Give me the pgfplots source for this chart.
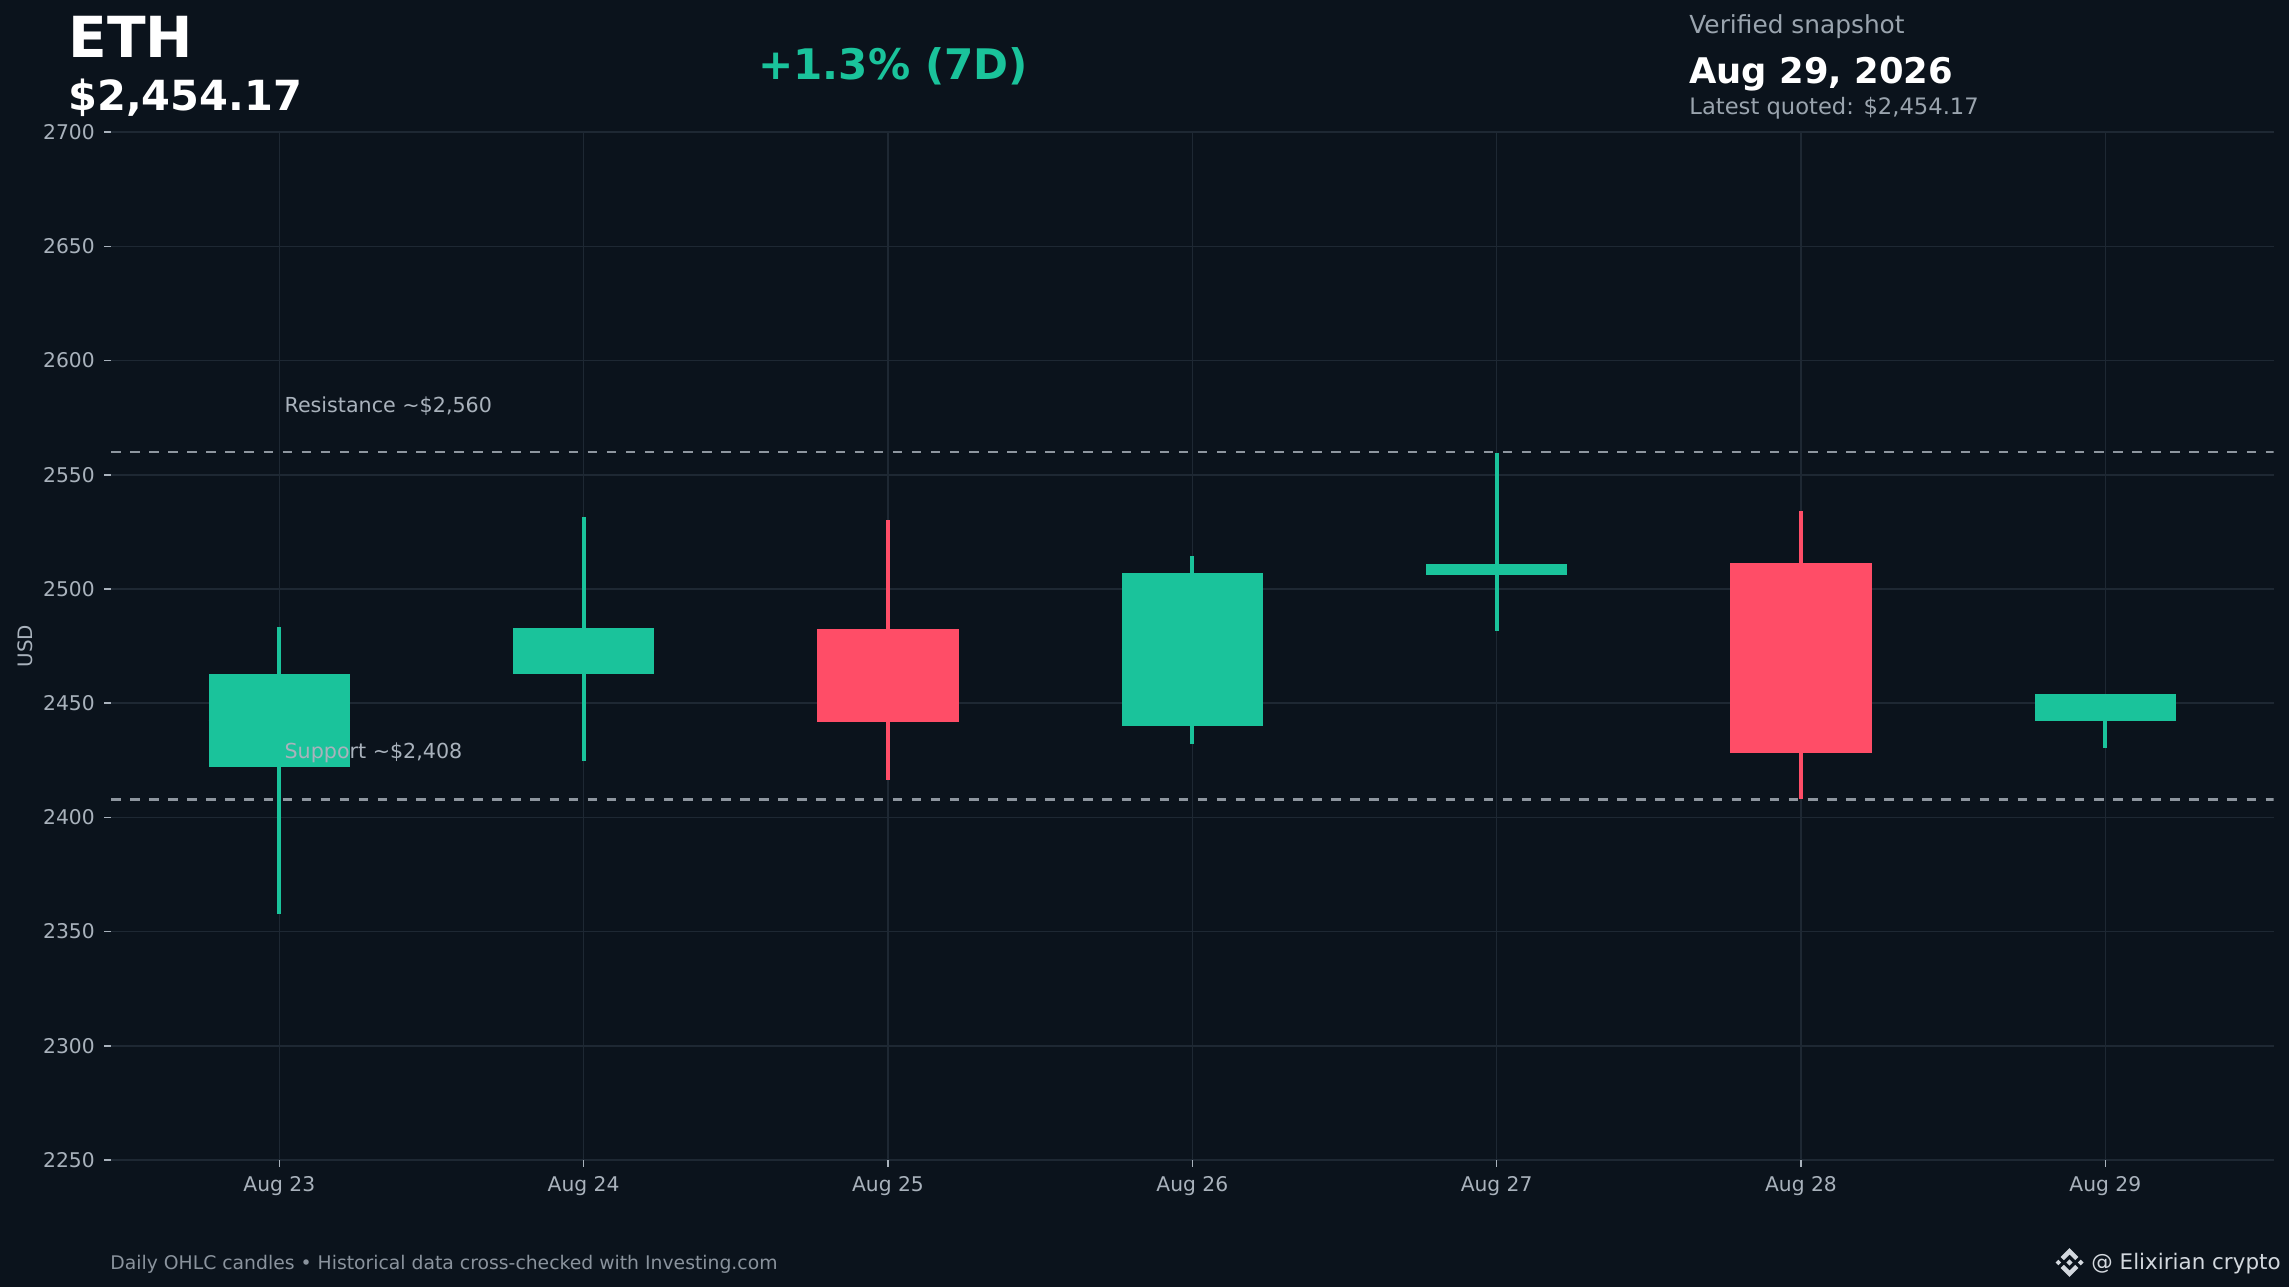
\documentclass[border=0pt]{standalone}
\usepackage{fontspec}
\setmainfont{DejaVu Sans}
\usepackage{pgfplots}
\pgfplotsset{compat=1.18}
\usepgfplotslibrary{statistics}
\definecolor{bg}{HTML}{0B131C}
\definecolor{up}{HTML}{1AC39B}
\definecolor{down}{HTML}{FF4D67}
\definecolor{gridc}{HTML}{1E2833}
\definecolor{tickc}{HTML}{A9B2BC}
\definecolor{subc}{HTML}{9AA4AE}
\definecolor{footc}{HTML}{8A939D}
\definecolor{handc}{HTML}{D3D8DE}
\definecolor{dashc}{HTML}{8E969F}
\pgfplotsset{
  candle/.style={boxplot/draw direction=y,
    boxplot/every whisker/.style={line width=2pt},
    boxplot/every box/.style={draw=none},
    boxplot/every median/.style={draw=none}},
}
% date, open, high, low, close
% Aug 23: 2422.2 2483.3 2357.8 2462.7
% Aug 24: 2462.9 2531.5 2424.8 2482.9
% Aug 25: 2482.4 2530.2 2416.5 2441.9
% Aug 26: 2440.1 2514.4 2432.2 2507.0
% Aug 27: 2506.1 2559.4 2481.7 2510.9
% Aug 28: 2511.3 2534.1 2408.1 2428.3
% Aug 29: 2442.3 2454.17 2430.5 2454.17
\begin{document}
\begin{tikzpicture}
\begin{scope}[shift={(0pt,648pt)},x=0.5035pt,y=-0.5035pt]
\fill[bg] (0,0) rectangle (2289,1287);
\end{scope}
\begin{axis}[
  at={(55.89pt,63.94pt)}, anchor=south west,
  width=1088.8pt, height=517.5pt, scale only axis,
  xmin=-0.553, xmax=6.553, ymin=2250, ymax=2700,
  xtick={0,1,2,3,4,5,6},
  xticklabels={Aug 23,Aug 24,Aug 25,Aug 26,Aug 27,Aug 28,Aug 29},
  ytick={2250,2300,2350,2400,2450,2500,2550,2600,2650,2700},
  xtick pos=lower, ytick pos=left,
  grid=major, major grid style={draw=gridc, line width=0.8pt},
  axis line style={draw=none},
  tick align=outside, major tick length=3.5pt,
  tick style={draw=tickc, line width=0.8pt},
  ticklabel style={font=\fontsize{10.2}{12}\selectfont, text=tickc, inner sep=0pt},
  yticklabel style={anchor=east, xshift=-4.5pt},
  xticklabel style={anchor=north, yshift=-4.5pt},
  /pgf/number format/assume math mode=true,
  /pgf/number format/1000 sep={},
]
\addplot[up, fill=up, candle, boxplot prepared={draw position=0, lower whisker=2357.8, lower quartile=2422.2, median=2442.4, upper quartile=2462.7, upper whisker=2483.3, box extend=0.465, whisker extend=0}] coordinates {};
\addplot[up, fill=up, candle, boxplot prepared={draw position=1, lower whisker=2424.8, lower quartile=2462.9, median=2472.9, upper quartile=2482.9, upper whisker=2531.5, box extend=0.465, whisker extend=0}] coordinates {};
\addplot[down, fill=down, candle, boxplot prepared={draw position=2, lower whisker=2416.5, lower quartile=2441.9, median=2462.1, upper quartile=2482.4, upper whisker=2530.2, box extend=0.465, whisker extend=0}] coordinates {};
\addplot[up, fill=up, candle, boxplot prepared={draw position=3, lower whisker=2432.2, lower quartile=2440.1, median=2473.5, upper quartile=2507.0, upper whisker=2514.4, box extend=0.465, whisker extend=0}] coordinates {};
\addplot[up, fill=up, candle, boxplot prepared={draw position=4, lower whisker=2481.7, lower quartile=2506.1, median=2508.5, upper quartile=2510.9, upper whisker=2559.4, box extend=0.465, whisker extend=0}] coordinates {};
\addplot[down, fill=down, candle, boxplot prepared={draw position=5, lower whisker=2408.1, lower quartile=2428.3, median=2469.8, upper quartile=2511.3, upper whisker=2534.1, box extend=0.465, whisker extend=0}] coordinates {};
\addplot[up, fill=up, candle, boxplot prepared={draw position=6, lower whisker=2430.5, lower quartile=2442.3, median=2448.2, upper quartile=2454.17, upper whisker=2454.17, box extend=0.465, whisker extend=0}] coordinates {};
\addplot[dashc, line width=1.4pt, dash pattern=on 4.8pt off 4.8pt] coordinates {(-0.553,2560) (6.553,2560)};
\addplot[dashc, line width=1.4pt, dash pattern=on 4.8pt off 4.8pt] coordinates {(-0.553,2408) (6.553,2408)};
\node[anchor=base west, inner sep=0pt, font=\fontsize{10.4}{12}\selectfont, text=tickc] at (axis cs:0.016,2577.1) {Resistance \textasciitilde\$2,560};
\node[anchor=base west, inner sep=0pt, font=\fontsize{10.4}{12}\selectfont, text=tickc] at (axis cs:0.016,2425.8) {Support \textasciitilde\$2,408};
\end{axis}
\begin{scope}[shift={(0pt,648pt)},x=0.5035pt,y=-0.5035pt]
\node[anchor=base west, inner sep=0pt, font=\bfseries\fontsize{28.5}{32}\selectfont, text=white] at (68,58) {ETH};
\node[anchor=base west, inner sep=0pt, font=\bfseries\fontsize{20.9}{25}\selectfont, text=white] at (68,111) {\$2,454.17};
\node[anchor=base, inner sep=0pt, font=\bfseries\fontsize{21.2}{25}\selectfont, text=up] at (893,80) {+1.3\% (7D)};
\node[anchor=base west, inner sep=0pt, font=\fontsize{12.5}{14}\selectfont, text=subc] at (1689,34) {Verified snapshot};
\node[anchor=base west, inner sep=0pt, font=\bfseries\fontsize{17.8}{22}\selectfont, text=white] at (1689,83.3) {Aug 29, 2026};
\node[anchor=base west, inner sep=0pt, font=\fontsize{11.4}{14}\selectfont, text=subc] at (1689,115) {Latest quoted: \$2,454.17};
\node[rotate=90, inner sep=0pt, font=\fontsize{10}{12}\selectfont, text=tickc] at (25.5,646) {USD};
\node[anchor=base west, inner sep=0pt, font=\fontsize{9.46}{12}\selectfont, text=footc] at (110,1269.5) {Daily OHLC candles \textbullet{} Historical data cross-checked with Investing.com};
\node[anchor=base east, inner sep=0pt, font=\fontsize{10.8}{13}\selectfont, text=handc] at (2281,1269.5) {@ Elixirian crypto};
\begin{scope}[shift={(2069.5,1262.5)},x=7.2pt,y=7.2pt]
\fill[handc] (0,0.22) -- (0.22,0) -- (0,-0.22) -- (-0.22,0) -- cycle;
\fill[handc] (0.78,0.2) -- (0.98,0) -- (0.78,-0.2) -- (0.58,0) -- cycle;
\fill[handc] (-0.78,0.2) -- (-0.98,0) -- (-0.78,-0.2) -- (-0.58,0) -- cycle;
\fill[handc] (-0.62,0.38) -- (0,1) -- (0.62,0.38) -- (0.4,0.16) -- (0,0.56) -- (-0.4,0.16) -- cycle;
\fill[handc] (-0.62,-0.38) -- (0,-1) -- (0.62,-0.38) -- (0.4,-0.16) -- (0,-0.56) -- (-0.4,-0.16) -- cycle;
\end{scope}
\pgfresetboundingbox
\path[use as bounding box] (0,0) rectangle (2289,1287);
\end{scope}
\end{tikzpicture}
\end{document}
